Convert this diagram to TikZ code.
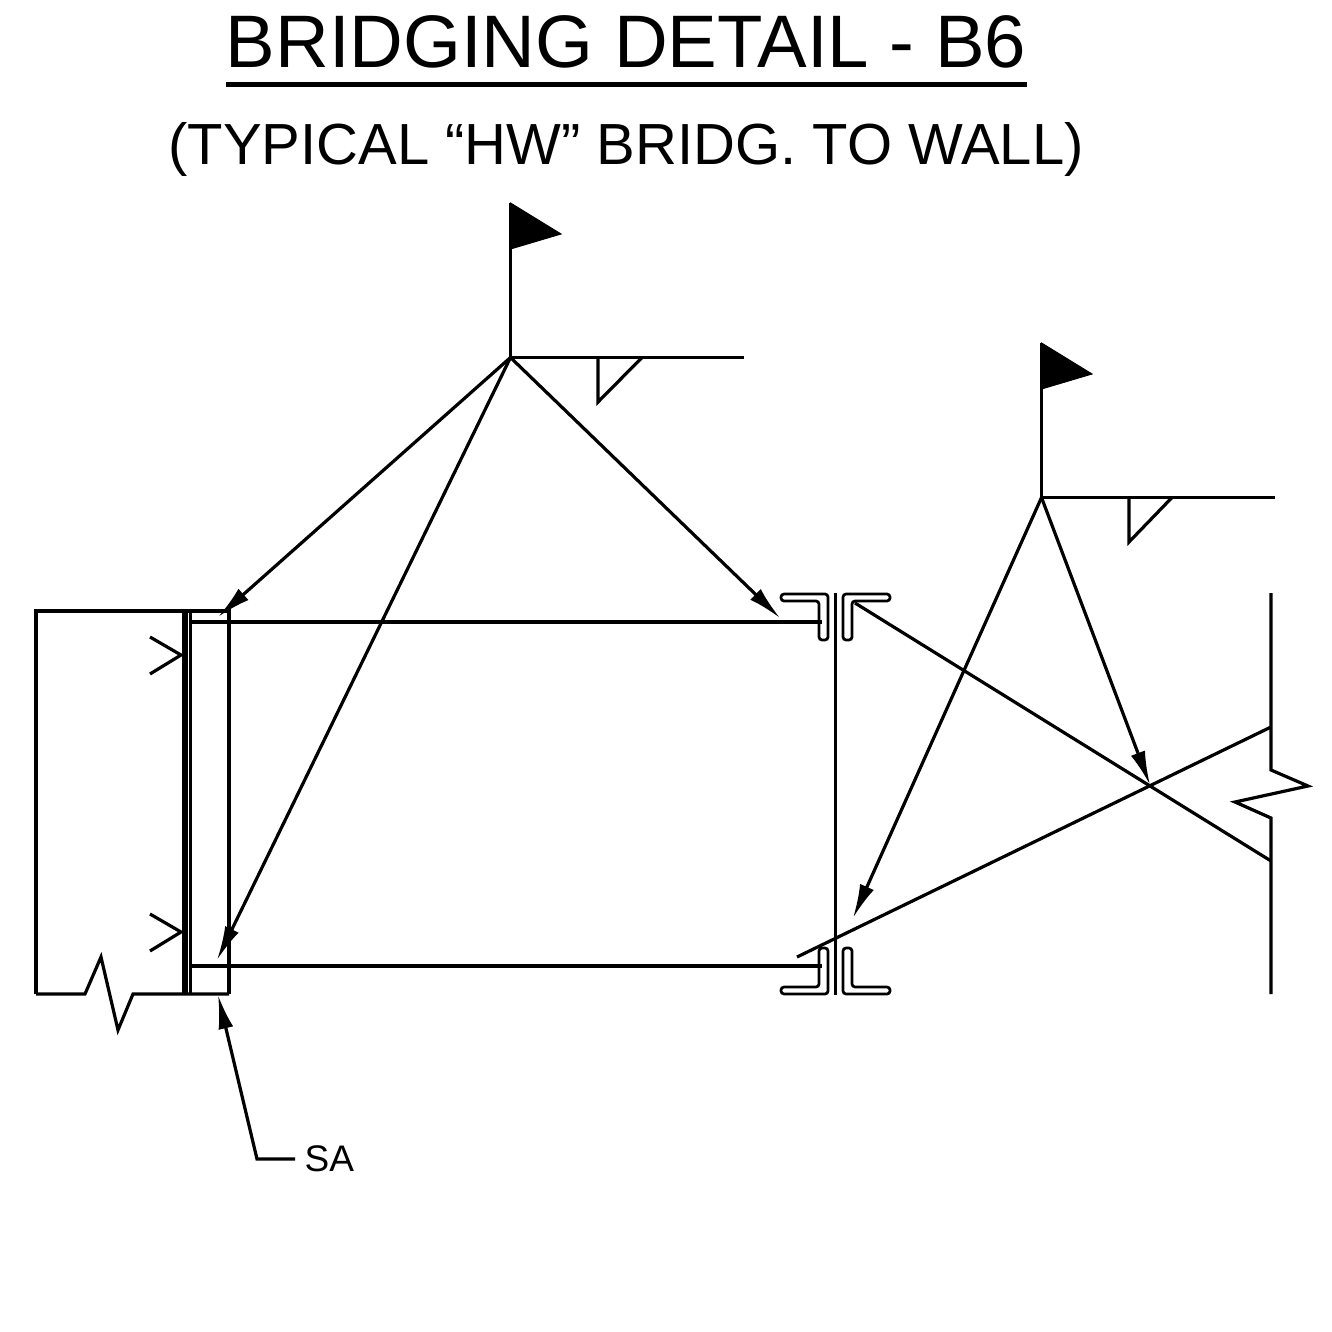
\documentclass[tikz,border=0pt]{standalone}
\usepackage{fontspec}
\setmainfont{Liberation Sans}
\usetikzlibrary{arrows.meta}

\begin{document}
\begin{tikzpicture}
[x=.5pt,y=-.5pt,line width=1.6pt,line join=miter,>={Latex[length=17pt,width=7.5pt]},
 titletext/.style={anchor=base,inner sep=0pt,font=\fontsize{37.2}{40}\selectfont},
 subtext/.style={anchor=base,inner sep=0pt,font=\fontsize{29}{34}\selectfont},
 angleleg/.style={line width=1.35pt,rounded corners=1.5pt},
 flag/.style={fill=black,draw=black,line width=.5pt}]

\useasboundingbox (0,0) rectangle (1332,1332);

\node[titletext] (title) at (626,68) {BRIDGING DETAIL - B6};
\node[subtext] (subtitle) at (626,165) {(TYPICAL “HW” BRIDG. TO WALL)};
\draw[line width=2.5pt] (226,85) -- (1027,85); %underline

\coordinate (weldA) at (510.5,357.5);
\coordinate (weldB) at (1041.5,497.5);
\coordinate (tipTopLeft) at (218,617);
\coordinate (tipBotLeft) at (217,960);
\coordinate (tipAngle) at (780,618);
\coordinate (tipBotAngle) at (853,918);
\coordinate (tipCross) at (1150,785);
\coordinate (tipSA) at (218,995);

\draw (36,994) -- (36,611) -- (229,611) -- (229,994); %wall
\draw (36,994) -- (85,994) -- (101,957) -- (118,1030) -- (133,994) -- (229,994); %break
\draw[line width=3pt] (184.5,611) -- (184.5,994); %plate
\draw (190.5,611) -- (190.5,994);
\draw (190,622) -- (822,622); %top chord
\draw (190,966) -- (822,966); %bottom chord
\draw (150,637) -- (181,655) -- (150,674);
\draw (150,914) -- (181,932) -- (150,951);

\draw (835.5,593) -- (835.5,995); %gusset

\draw[angleleg] (781,594) -- (828,594) -- (828,640) -- (819,640) -- (819,601) -- (781,601) -- cycle;
\draw[angleleg] (890,594) -- (843,594) -- (843,640) -- (852,640) -- (852,601) -- (890,601) -- cycle;
\draw[angleleg] (781,994) -- (828,994) -- (828,948) -- (819,948) -- (819,987) -- (781,987) -- cycle;
\draw[angleleg] (890,994) -- (843,994) -- (843,948) -- (852,948) -- (852,987) -- (890,987) -- cycle;

\draw (855,603) -- (1271,861); %diagonals
\draw (797,957) -- (1271,727);
\draw (1271,593) -- (1271,770) -- (1308,786) -- (1235,802) -- (1271,818) -- (1271,994); %wall break

\draw (weldA) -- (510.5,203);
\filldraw[flag] (510.5,203) -- (561,234) -- (510.5,249) -- cycle;
\draw (weldA) -- (744,357.5);
\draw (598,357.5) -- (598,402) -- (642,357.5);
\draw[->] (weldA) -- (tipTopLeft);
\draw[->] (weldA) -- (tipBotLeft);
\draw[->] (weldA) -- (tipAngle);

\draw (weldB) -- (1041.5,343);
\filldraw[flag] (1041.5,343) -- (1092,374) -- (1041.5,389) -- cycle;
\draw (weldB) -- (1275,497.5);
\draw (1129,497.5) -- (1129,542) -- (1172,497.5);
\draw[->] (weldB) -- (tipBotAngle);
\draw[->] (weldB) -- (tipCross);

\node[anchor=west,inner sep=4pt,font=\fontsize{18.5}{22}\selectfont] (sa) at (295,1159) {SA};
\draw[->] (sa.west) -- (257,1159) -- (tipSA);

\end{tikzpicture}
\end{document}
